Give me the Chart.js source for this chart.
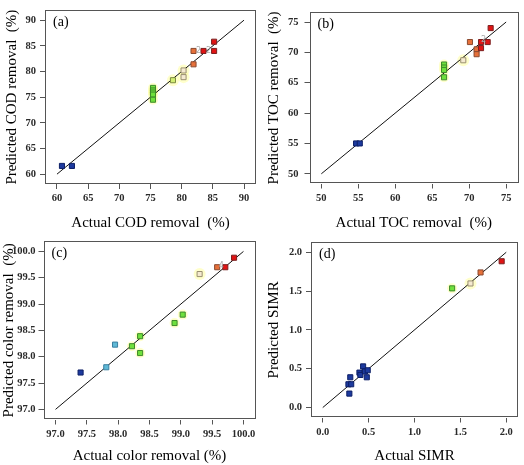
<!DOCTYPE html>
<html>
<head>
<meta charset="utf-8">
<script src="https://cdn.jsdelivr.net/npm/chart.js@4.4.1/dist/chart.umd.min.js"></script>
<style>
  html, body { margin: 0; padding: 0; background: #fff; }
  #wrap { position: relative; width: 524px; height: 465px; background: #fff; }
  .pane { position: absolute; }
</style>
</head>
<body>
<div id="wrap">
  <div class="pane" style="left:0;top:0;width:262px;height:232px"><canvas id="ca"></canvas></div>
  <div class="pane" style="left:262px;top:0;width:262px;height:232px"><canvas id="cb"></canvas></div>
  <div class="pane" style="left:0;top:232px;width:262px;height:233px"><canvas id="cc"></canvas></div>
  <div class="pane" style="left:262px;top:232px;width:262px;height:233px"><canvas id="cd"></canvas></div>
</div>
<script>
// ---------- DATA ----------
// (a) COD removal
const codActual    = [60.8, 62.4, 75.4, 75.4, 75.4, 75.4, 75.4, 78.6, 80.3, 80.3, 81.9, 81.9, 83.5, 85.2, 85.2];
const codPredicted = [61.6, 61.6, 76.8, 76.3, 75.9, 75.5, 74.5, 78.3, 80.2, 78.9, 81.4, 84.0, 84.0, 85.8, 84.0];
const codTicks     = [60, 65, 70, 75, 80, 85, 90];
const codDupX      = [82.7, 84.3];
const codDupY      = [84.1, 84.1];
const codDupText   = ['2', '2'];

// (b) TOC removal
const tocActual    = [54.7, 55.2, 66.6, 66.6, 66.6, 66.6, 69.2, 70.1, 71.0, 71.0, 71.6, 71.6, 72.5, 72.9];
const tocPredicted = [55.0, 55.0, 68.0, 67.5, 67.1, 65.9, 68.7, 71.7, 70.5, 69.7, 71.7, 70.7, 71.7, 74.0];
const tocTicks     = [50, 55, 60, 65, 70, 75];
const tocDupX      = [71.95];
const tocDupY      = [72.0];
const tocDupText   = ['2'];

// (c) color removal
const colActual    = [97.40, 97.81, 97.95, 98.22, 98.35, 98.35, 98.90, 99.03, 99.30, 99.58, 99.71, 99.85];
const colPredicted = [97.70, 97.80, 98.23, 98.20, 98.39, 98.07, 98.64, 98.80, 99.57, 99.70, 99.70, 99.88];
const colTicks     = [97.0, 97.5, 98.0, 98.5, 99.0, 99.5, 100.0];
const colDupX      = [99.645];
const colDupY      = [99.73];
const colDupText   = ['4'];

// (d) SIMR
const simrActual    = [0.29, 0.28, 0.31, 0.30, 0.40, 0.41, 0.44, 0.46, 0.49, 0.48, 1.41, 1.61, 1.72, 1.95];
const simrPredicted = [0.18, 0.30, 0.30, 0.39, 0.45, 0.42, 0.53, 0.465, 0.48, 0.39, 1.535, 1.598, 1.74, 1.884];
const simrTicks     = [0.0, 0.5, 1.0, 1.5, 2.0];
const simrDupX      = [];
const simrDupY      = [];
const simrDupText   = [];

// point colour classes (Design-Expert style gradient by actual value)
const codClass  = ['blue','blue','green','green','green','green','green','lime','pale','pale','orange','orange','red','red','red'];
const tocClass  = ['blue','blue','green','green','green','green','pale','orange','orange','orange','red','red','red','red'];
const colClass  = ['blue','cyan','cyan','green','green','green','green','green','pale','orange','red','red'];
const simrClass = ['blue','blue','blue','blue','blue','blue','blue','blue','blue','blue','green','pale','orange','red'];

const panelLetters = ['(a)', '(b)', '(c)', '(d)'];
const xTitles = ['Actual COD removal  (%)', 'Actual TOC removal  (%)', 'Actual color removal (%)', 'Actual SIMR'];
const yTitles = ['Predicted COD removal  (%)', 'Predicted TOC removal  (%)', 'Predicted color removal  (%)', 'Predicted SIMR'];

// ---------- STYLE ----------
const FILL = { blue:'#1d3a9e', cyan:'#5fb9d6', green:'#6fe03c', lime:'#d2ee72', pale:'#f5ead0', orange:'#e6703a', red:'#e01414' };
const EDGE = { blue:'#0d1f66', cyan:'#3a7fa0', green:'#3d8a2a', lime:'#7c8a40', pale:'#9a9070', orange:'#8a4a30', red:'#7a2020' };
const HALO = { blue:0, cyan:0, green:5, lime:6, pale:6, orange:0, red:0 };
const SERIF = "'Liberation Serif', 'DejaVu Serif', serif";

// layout per panel: canvas size and chart area box (canvas coords)
const LAYOUT = [
  { w:262, h:232, l:45,   r:257,   t:2, b:184,   ylabPad:4, xtitlePad:0, ytitlePad:3 },
  { w:262, h:232, l:47.5, r:259,   t:2, b:183.5, ylabPad:6, xtitlePad:0, ytitlePad:3 },
  { w:262, h:233, l:43.5, r:255.5, t:4, b:187.5, ylabPad:3, xtitlePad:0, ytitlePad:0 },
  { w:262, h:233, l:49,   r:260,   t:4, b:185.5, ylabPad:4, xtitlePad:0, ytitlePad:3 }
];

const framePlugin = {
  id: 'frame',
  beforeDatasetsDraw(chart) {
    const a = chart.chartArea, ctx = chart.ctx;
    ctx.save();
    ctx.strokeStyle = '#555';
    ctx.lineWidth = 1;
    ctx.strokeRect(Math.round(a.left) + 0.5, Math.round(a.top) + 0.5,
                   Math.round(a.right - a.left) - 1, Math.round(a.bottom - a.top) - 1);
    ctx.restore();
  },
  afterDraw(chart, args, opts) {
    const a = chart.chartArea, ctx = chart.ctx;
    ctx.save();
    ctx.fillStyle = '#000';
    ctx.font = '14px ' + SERIF;
    ctx.textBaseline = 'middle';
    ctx.fillText(opts.letter, a.left + 8, a.top + 12);
    // duplicate-count labels, placed through the scales
    const sx = chart.scales.x, sy = chart.scales.y;
    ctx.fillStyle = '#aaa';
    ctx.font = '8px ' + 'DejaVu Sans, sans-serif';
    ctx.textAlign = 'center';
    opts.dupX.forEach((x, i) => {
      ctx.fillText(opts.dupText[i], sx.getPixelForValue(x), sy.getPixelForValue(opts.dupY[i]));
    });
    ctx.restore();
  }
};

function makePanel(id, idx, xs, ys, cls, ticks, decimals, dupX, dupY, dupText) {
  const L = LAYOUT[idx];
  const span = ticks[ticks.length - 1] - ticks[0];
  const pad = span * 0.064;
  const mn = ticks[0] - pad, mx = ticks[ticks.length - 1] + pad;
  const pts = xs.map((x, i) => ({ x: x, y: ys[i] }));
  const fmt = v => Number(v).toFixed(decimals);
  const axisCommon = (isX) => ({
    type: 'linear',
    min: mn, max: mx,
    afterBuildTicks: s => { s.ticks = ticks.map(v => ({ value: v })); },
    afterFit: s => { if (isX) s.height = L.h - L.b; else s.width = L.l; },
    border: { display: false },
    grid: { drawOnChartArea: false, drawTicks: true, tickLength: 5, color: '#555', lineWidth: 1 },
    ticks: {
      autoSkip: false, maxRotation: 0, minRotation: 0,
      padding: isX ? 3 : L.ylabPad,
      color: '#2a2a2a',
      font: { family: SERIF, size: 10.5, weight: 'bold' },
      callback: v => fmt(v)
    },
    title: {
      display: true,
      text: isX ? xTitles[idx] : yTitles[idx],
      color: '#000',
      font: { family: SERIF, size: 15 },
      padding: isX ? { top: 0, bottom: L.xtitlePad } : { top: L.ytitlePad, bottom: 0 }
    }
  });
  return new Chart(document.getElementById(id), {
    type: 'scatter',
    data: {
      datasets: [
        {
          type: 'line',
          data: [{ x: ticks[0], y: ticks[0] }, { x: ticks[ticks.length - 1], y: ticks[ticks.length - 1] }],
          borderColor: '#111', borderWidth: 1, pointRadius: 0, fill: false, order: 2
        },
        {
          // soft yellow halo behind the light-coloured points
          data: pts,
          pointStyle: 'circle',
          pointRadius: cls.map(c => HALO[c]),
          pointHoverRadius: cls.map(c => HALO[c]),
          backgroundColor: 'rgba(255,255,160,0.55)',
          borderWidth: 0,
          order: 3
        },
        {
          data: pts,
          pointStyle: 'rect',
          pointRadius: 3.6,
          pointHoverRadius: 3.6,
          backgroundColor: cls.map(c => FILL[c]),
          borderColor: cls.map(c => EDGE[c]),
          borderWidth: 1,
          order: 1
        }
      ]
    },
    options: {
      responsive: true, maintainAspectRatio: false, animation: false,
      devicePixelRatio: 1,
      layout: { padding: { left: 0, top: L.t, right: L.w - L.r, bottom: 0 } },
      plugins: {
        legend: { display: false }, tooltip: { enabled: false },
        frame: { letter: panelLetters[idx], dupX: dupX, dupY: dupY, dupText: dupText }
      },
      scales: { x: axisCommon(true), y: axisCommon(false) }
    },
    plugins: [framePlugin]
  });
}

makePanel('ca', 0, codActual, codPredicted, codClass, codTicks, 0, codDupX, codDupY, codDupText);
makePanel('cb', 1, tocActual, tocPredicted, tocClass, tocTicks, 0, tocDupX, tocDupY, tocDupText);
makePanel('cc', 2, colActual, colPredicted, colClass, colTicks, 1, colDupX, colDupY, colDupText);
makePanel('cd', 3, simrActual, simrPredicted, simrClass, simrTicks, 1, simrDupX, simrDupY, simrDupText);
</script>
</body>
</html>
